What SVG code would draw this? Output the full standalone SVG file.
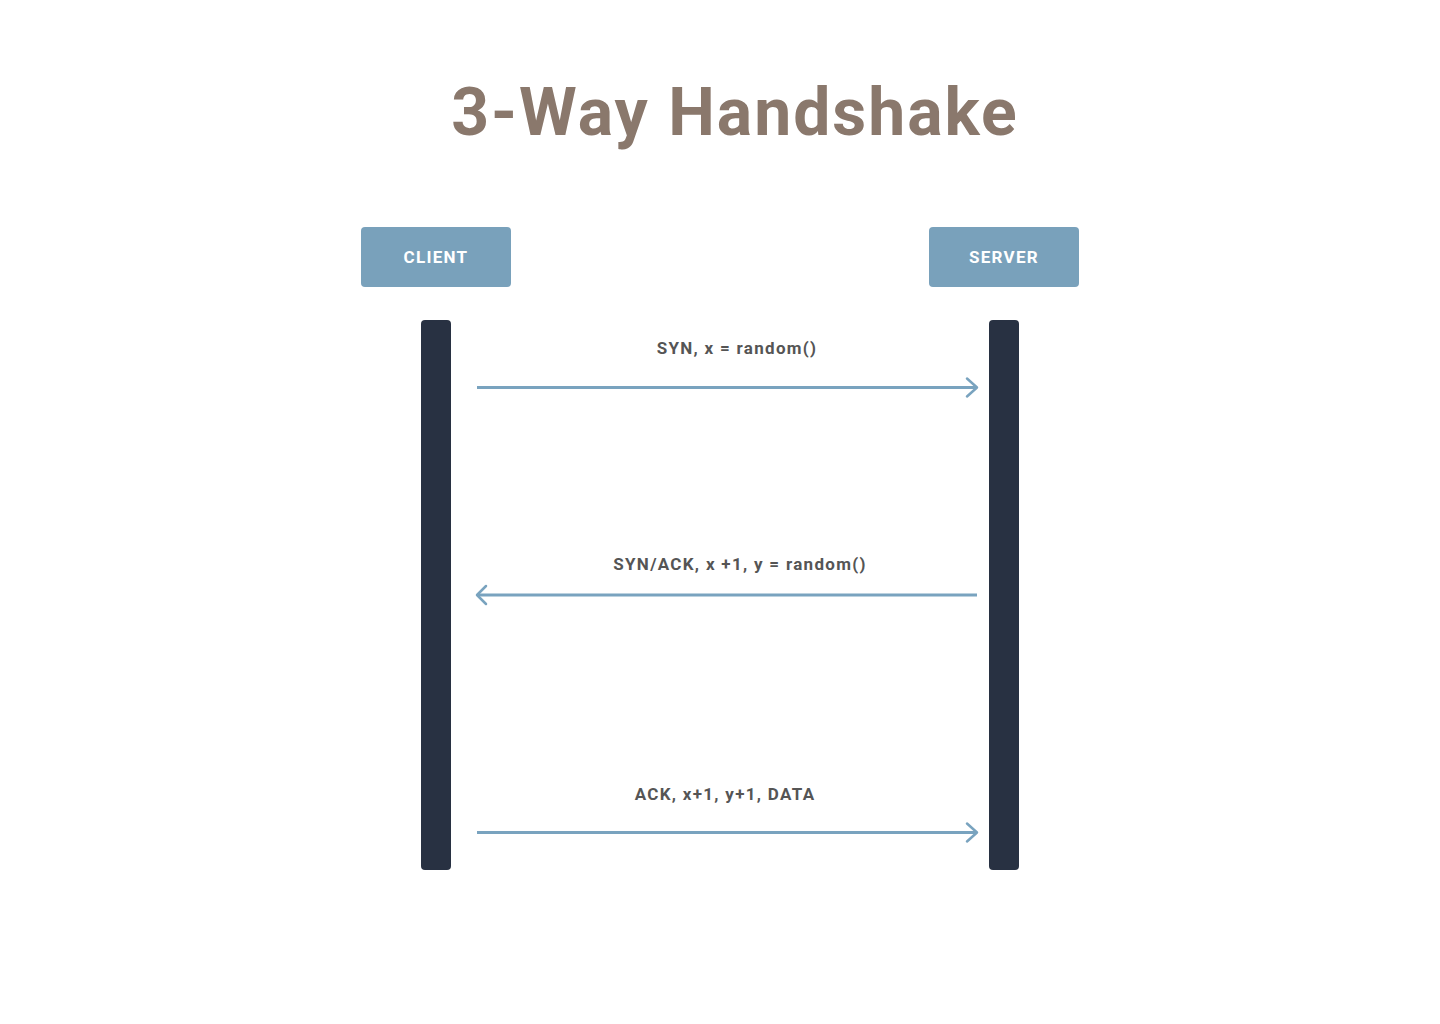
<svg xmlns="http://www.w3.org/2000/svg" width="1440" height="1024" viewBox="0 0 1440 1024">
<style>
.title{font-family:Roboto,"Liberation Sans",sans-serif;font-weight:700;font-size:66px;fill:#8a786c;letter-spacing:2px}
.box{fill:#79a1bb}
.boxt{font-family:Roboto,"Liberation Sans",sans-serif;font-weight:700;font-size:17px;fill:#ffffff;letter-spacing:1.3px}
.bar{fill:#283142}
.lbl{font-family:Roboto,"Liberation Sans",sans-serif;font-weight:700;font-size:17px;fill:#555555;letter-spacing:1.3px}
.msg{stroke:#79a3bf;stroke-width:3;fill:none}
.head{stroke:#79a3bf;stroke-width:2.5;fill:none;stroke-linecap:round;stroke-linejoin:round}
</style>
<rect width="1440" height="1024" fill="#ffffff"/>
<text class="title" x="735" y="135" text-anchor="middle">3-Way Handshake</text>
<g id="client">
<rect class="box" x="361" y="227" width="150" height="60" rx="4"/>
<text class="boxt" x="436" y="263" text-anchor="middle">CLIENT</text>
<rect class="bar" x="421" y="320" width="30" height="550" rx="4"/>
</g>
<g id="server">
<rect class="box" x="929" y="227" width="150" height="60" rx="4"/>
<text class="boxt" x="1004" y="263" text-anchor="middle">SERVER</text>
<rect class="bar" x="989" y="320" width="30" height="550" rx="4"/>
</g>
<g id="connectors">
<line class="msg" x1="477" y1="387.5" x2="976" y2="387.5"/>
<polyline class="head" points="967,378.5 977,387.5 967,396.5"/>
<line class="msg" x1="478" y1="595" x2="977" y2="595"/>
<polyline class="head" points="486,586 477,595 486,604"/>
<line class="msg" x1="477" y1="832.5" x2="976" y2="832.5"/>
<polyline class="head" points="967,823.5 977,832.5 967,841.5"/>
</g>
<g id="labels">
<text class="lbl" x="737" y="354" text-anchor="middle">SYN, x = random()</text>
<text class="lbl" x="740" y="570" text-anchor="middle">SYN/ACK, x +1, y = random()</text>
<text class="lbl" x="725" y="800" text-anchor="middle">ACK, x+1, y+1, DATA</text>
</g>
</svg>
